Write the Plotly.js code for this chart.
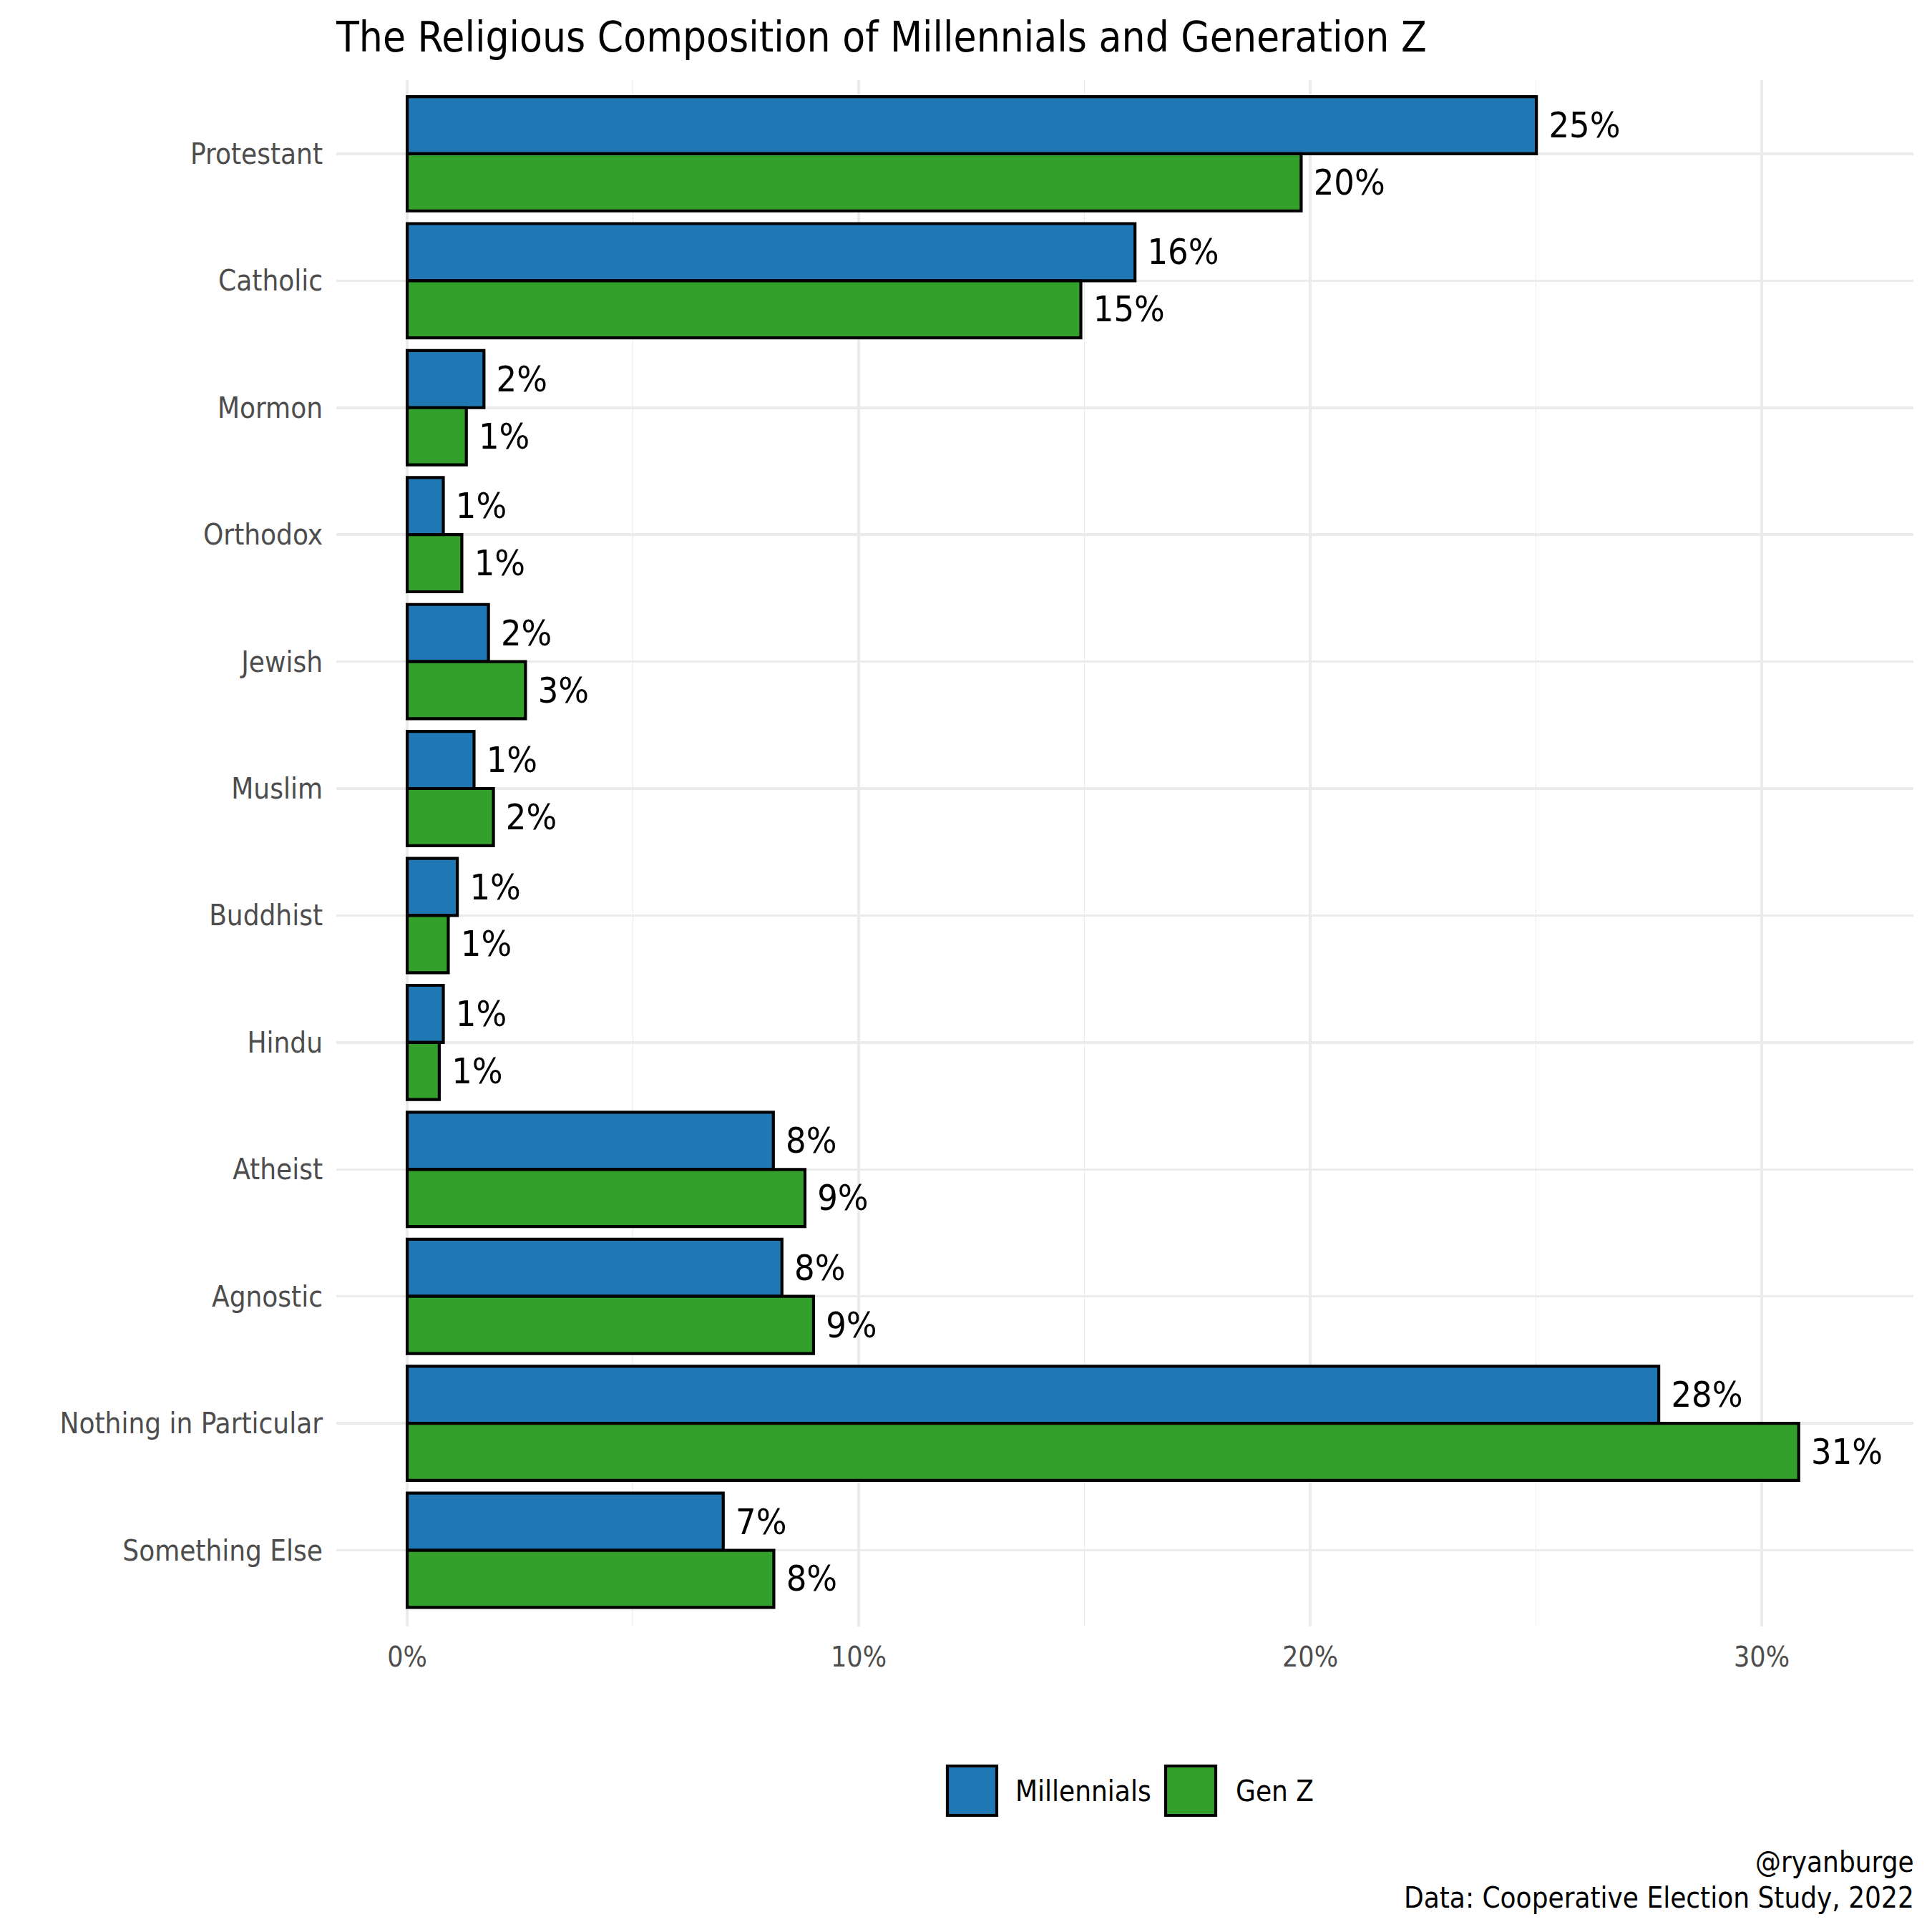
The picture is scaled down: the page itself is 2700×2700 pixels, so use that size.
<!DOCTYPE html>
<html>
<head>
<meta charset="utf-8">
<script src="https://cdn.plot.ly/plotly-3.0.1.min.js"></script>
<style>html,body{margin:0;padding:0;background:#fff;}#chart{width:2700px;height:2700px;}</style>
</head>
<body>
<div id="chart"></div>
<script>
const categories = ["Protestant","Catholic","Mormon","Orthodox","Jewish","Muslim","Buddhist","Hindu","Atheist","Agnostic","Nothing in Particular","Something Else"];
const millennials = [25.01, 16.12, 1.70, 0.80, 1.80, 1.48, 1.11, 0.80, 8.11, 8.30, 27.72, 7.00];
const genZ        = [19.80, 14.92, 1.31, 1.21, 2.62, 1.91, 0.91, 0.71, 8.81, 9.00, 30.82, 8.12];
const millennialLabels = ["25%","16%","2%","1%","2%","1%","1%","1%","8%","8%","28%","7%"];
const genZLabels       = ["20%","15%","1%","1%","3%","2%","1%","1%","9%","9%","31%","8%"];
const seriesNames = ["Millennials","Gen Z"];
const xTickVals = [0, 10, 20, 30];
const xTickText = ["0%","10%","20%","30%"];

const FONT = '"DejaVu Sans Condensed", "Liberation Sans Narrow", "DejaVu Sans", sans-serif';
const BLUE = '#1f78b4', GREEN = '#33a02c';
const W = 2700, H = 2700;
const M = {l: 470, r: 26, t: 112, b: 427};
const PW = W - M.l - M.r, PH = H - M.t - M.b;
const px = x => (x - M.l) / PW;
const py = y => (H - M.b - y) / PH;

function barTrace(name, vals, labels, color) {
  return {
    type: 'bar', orientation: 'h', name: name,
    x: vals, y: categories,
    text: labels.map(s => '\u00a0' + s),
    textposition: 'outside', cliponaxis: false, constraintext: 'none',
    outsidetextfont: {family: FONT, size: 50, color: '#000'},
    marker: {color: color, line: {color: '#000', width: 4.2}},
    hoverinfo: 'skip', showlegend: false
  };
}

const data = [
  barTrace(seriesNames[0], millennials, millennialLabels, BLUE),
  barTrace(seriesNames[1], genZ, genZLabels, GREEN)
];

const legendKeys = [
  {x0: 1324, x1: 1393, color: BLUE, tx: 1417, label: seriesNames[0]},
  {x0: 1629, x1: 1699, color: GREEN, tx: 1725, label: seriesNames[1]}
];
const shapes = legendKeys.map(k => ({
  type: 'rect', xref: 'paper', yref: 'paper',
  x0: px(k.x0), x1: px(k.x1), y0: py(2537), y1: py(2468),
  fillcolor: k.color, line: {color: '#000', width: 4.2}
}));
const annotations = legendKeys.map(k => ({
  xref: 'paper', yref: 'paper', x: px(k.tx), y: py(2503),
  xanchor: 'left', yanchor: 'middle', showarrow: false,
  text: k.label, font: {family: FONT, size: 40, color: '#000'}
}));
annotations.push({
  xref: 'paper', yref: 'paper', x: px(2677), y: py(2602),
  xanchor: 'right', yanchor: 'middle', showarrow: false,
  text: '@ryanburge', font: {family: FONT, size: 40, color: '#000'}
});
annotations.push({
  xref: 'paper', yref: 'paper', x: px(2677), y: py(2652),
  xanchor: 'right', yanchor: 'middle', showarrow: false,
  text: 'Data: Cooperative Election Study, 2022', font: {family: FONT, size: 40, color: '#000'}
});

const layout = {
  width: W, height: H, autosize: false,
  margin: M,
  paper_bgcolor: '#fff', plot_bgcolor: '#fff',
  font: {family: FONT},
  title: {
    text: 'The Religious Composition of Millennials and Generation Z',
    x: px(470), xref: 'paper', xanchor: 'left',
    y: 1 - 52 / H, yref: 'container', yanchor: 'middle',
    font: {family: FONT, size: 58, color: '#000'}
  },
  barmode: 'group', bargap: 0.1, bargroupgap: 0,
  xaxis: {
    range: [-1.57, 33.36], tickvals: xTickVals, ticktext: xTickText,
    showgrid: true, gridcolor: '#ebebeb', gridwidth: 3.5,
    minor: {dtick: 5, tick0: 0, showgrid: true, gridcolor: '#ebebeb', gridwidth: 1.8},
    zeroline: false, showline: false, ticks: '',
    ticklabelstandoff: 16,
    tickfont: {family: FONT, size: 39, color: '#4d4d4d'}
  },
  yaxis: {
    type: 'category', categoryorder: 'array', categoryarray: categories,
    range: [11.6, -0.58],
    showgrid: true, gridcolor: '#ebebeb', gridwidth: 3.5,
    zeroline: false, showline: false, ticks: '',
    ticklabelstandoff: 18,
    tickfont: {family: FONT, size: 40, color: '#4d4d4d'}
  },
  shapes: shapes,
  annotations: annotations,
  showlegend: false
};

Plotly.newPlot('chart', data, layout, {displayModeBar: false, staticPlot: true});
</script>
</body>
</html>
